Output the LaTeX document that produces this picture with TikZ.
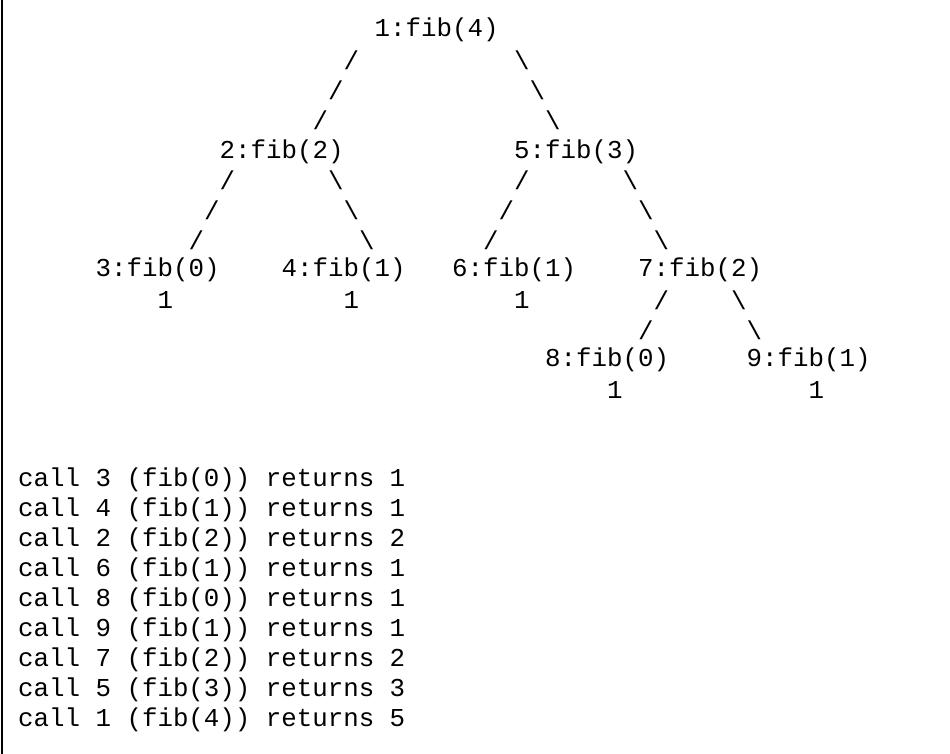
\documentclass[tikz,border=0pt]{standalone}
\usepackage{fontspec}
\setmonofont{Liberation Mono}
\begin{document}
\begin{tikzpicture}[x=1pt,y=-1pt,
  txt/.style={anchor=west,inner sep=0pt,font=\ttfamily\fontsize{25.8}{30}\selectfont}]
\useasboundingbox (0,0) rectangle (950,754);
\fill[white] (0,0) rectangle (950,754);
\draw[line width=1.5pt] (2,0) -- (2,754);
\newcommand\tx[4]{\node[txt] (#1) at ({18+15.5*#2},#3) {#4};}
\tx{n1}{23}{30}{1:fib(4)}
\tx{s1a}{21}{60}{/}\tx{s1b}{32}{60}{\textbackslash}
\tx{s2a}{20}{90}{/}\tx{s2b}{33}{90}{\textbackslash}
\tx{s3a}{19}{120}{/}\tx{s3b}{34}{120}{\textbackslash}
\tx{n2}{13}{152}{2:fib(2)}\tx{n5}{32}{152}{5:fib(3)}
\tx{a1}{13}{180}{/}\tx{a2}{20}{180}{\textbackslash}\tx{a3}{32}{180}{/}\tx{a4}{39}{180}{\textbackslash}
\tx{b1}{12}{210}{/}\tx{b2}{21}{210}{\textbackslash}\tx{b3}{31}{210}{/}\tx{b4}{40}{210}{\textbackslash}
\tx{c1}{11}{240}{/}\tx{c2}{22}{240}{\textbackslash}\tx{c3}{30}{240}{/}\tx{c4}{41}{240}{\textbackslash}
\tx{n3}{5}{270}{3:fib(0)}\tx{n4}{17}{270}{4:fib(1)}\tx{n6}{28}{270}{6:fib(1)}\tx{n7}{40}{270}{7:fib(2)}
\tx{r3}{9}{300}{1}\tx{r4}{21}{300}{1}\tx{r6}{32}{300}{1}
\tx{d1}{41}{300}{/}\tx{d2}{46}{300}{\textbackslash}
\tx{e1}{40}{330}{/}\tx{e2}{47}{330}{\textbackslash}
\tx{n8}{34}{360}{8:fib(0)}\tx{n9}{47}{360}{9:fib(1)}
\tx{r8}{38}{390}{1}\tx{r9}{51}{390}{1}
\tx{l1}{0}{480}{call 3 (fib(0)) returns 1}
\tx{l2}{0}{510}{call 4 (fib(1)) returns 1}
\tx{l3}{0}{540}{call 2 (fib(2)) returns 2}
\tx{l4}{0}{570}{call 6 (fib(1)) returns 1}
\tx{l5}{0}{600}{call 8 (fib(0)) returns 1}
\tx{l6}{0}{630}{call 9 (fib(1)) returns 1}
\tx{l7}{0}{660}{call 7 (fib(2)) returns 2}
\tx{l8}{0}{690}{call 5 (fib(3)) returns 3}
\tx{l9}{0}{720}{call 1 (fib(4)) returns 5}
\end{tikzpicture}
\end{document}
